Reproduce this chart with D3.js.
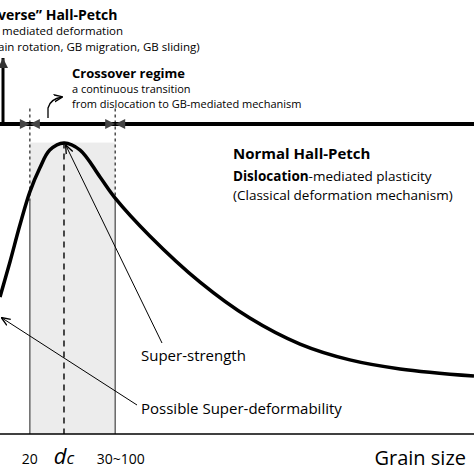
<!DOCTYPE html>
<html><head><meta charset="utf-8">
<script src="https://cdn.jsdelivr.net/npm/d3@7"></script>
<style>body{margin:0;background:#fff}text{font-family:"Open Sans",sans-serif}</style>
</head><body>
<svg id="chart" width="474" height="474"></svg>
<script>
// grain size (arbitrary units) vs strength (arbitrary units)
var curveX = [0, 2.1, 4.2, 6.3, 8.4, 10.5, 13.5, 16.9, 21.1, 24.3, 31.6, 42.2, 52.7, 63.3, 73.8, 84.4, 100];
var curveY = [44.2, 55.5, 67.4, 78.1, 85.8, 91.6, 93.9, 91.6, 82.9, 76.1, 63.9, 49, 37.4, 29, 23.9, 21, 18.7];
var bandStart = 6.3, bandEnd = 24.3, critical = 13.5;
var tickLabels = ["20", "d", "30~100"];
var tickPos = [6.3, 13.5, 25.5];

var svg = d3.select("#chart");
var x = d3.scaleLinear().domain([0, 100]).range([0, 474]);
var y = d3.scaleLinear().domain([0, 100]).range([434, 124]);

var defs = svg.append("defs");
defs.append("marker").attr("id", "tri").attr("viewBox", "0 0 10 10")
	.attr("refX", 10).attr("refY", 5).attr("markerWidth", 10).attr("markerHeight", 10)
	.attr("orient", "auto-start-reverse").attr("markerUnits", "userSpaceOnUse")
	.append("path").attr("d", "M0,0L10,5L0,10z").attr("fill", "#333");
defs.append("marker").attr("id", "thin").attr("viewBox", "0 0 10 10")
	.attr("refX", 9).attr("refY", 5).attr("markerWidth", 9).attr("markerHeight", 9)
	.attr("orient", "auto").attr("markerUnits", "userSpaceOnUse")
	.append("path").attr("d", "M0,1L10,5L0,9").attr("fill", "none").attr("stroke", "#000").attr("stroke-width", 1.5);

// crossover band
svg.append("rect").attr("x", x(bandStart)).attr("y", y(94))
	.attr("width", x(bandEnd) - x(bandStart)).attr("height", y(0) - y(94)).attr("fill", "#ececec");
[bandStart, bandEnd].forEach(function(v) {
	svg.append("line").attr("x1", x(v)).attr("x2", x(v)).attr("y1", y(75)).attr("y2", y(0))
		.attr("stroke", "#444").attr("stroke-width", 1.2);
	svg.append("line").attr("x1", x(v)).attr("x2", x(v)).attr("y1", y(105)).attr("y2", y(75))
		.attr("stroke", "#222").attr("stroke-width", 1.2).attr("stroke-dasharray", "3,3");
});
svg.append("line").attr("x1", x(critical)).attr("x2", x(critical)).attr("y1", y(94)).attr("y2", y(0))
	.attr("stroke", "#111").attr("stroke-width", 1.5).attr("stroke-dasharray", "6,5");

// regime divider line with arrowheads
svg.append("line").attr("x1", 0).attr("x2", 474).attr("y1", y(100)).attr("y2", y(100))
	.attr("stroke", "#000").attr("stroke-width", 4);
[[bandStart, -1], [bandStart, 1], [bandEnd, -1], [bandEnd, 1]].forEach(function(a) {
	var px = x(a[0]), d = a[1];
	svg.append("path").attr("d", "M" + px + "," + y(100) + "L" + (px + d * 10) + "," + (y(100) - 5) + "L" + (px + d * 10) + "," + (y(100) + 5) + "z")
		.attr("fill", "#444");
});

// axes
svg.append("line").attr("x1", 0).attr("x2", 474).attr("y1", y(0)).attr("y2", y(0)).attr("stroke", "#000").attr("stroke-width", 1.5);
svg.append("line").attr("x1", 3).attr("x2", 3).attr("y1", y(100)).attr("y2", 58)
	.attr("stroke", "#000").attr("stroke-width", 3).attr("marker-end", "url(#tri)");

// curve
var pts = curveX.map(function(v, i) { return [v, curveY[i]]; });
svg.append("path").datum(pts)
	.attr("d", d3.line().x(function(d) { return x(d[0]); }).y(function(d) { return y(d[1]); }).curve(d3.curveCatmullRom))
	.attr("fill", "none").attr("stroke", "#000").attr("stroke-width", 3.5);

// tick labels
tickLabels.forEach(function(t, i) {
	var tx = svg.append("text").attr("x", x(tickPos[i])).attr("y", 464).attr("text-anchor", "middle")
		.attr("font-size", 14).text(t);
	if (t == "d") {
		tx.attr("font-size", 22).attr("font-style", "italic").text("");
		tx.append("tspan").text("d");
		tx.append("tspan").attr("font-size", 17).text("c");
	}
});
svg.append("text").attr("x", 466).attr("y", 465).attr("text-anchor", "end").attr("font-size", 20).text("Grain size");

// annotations
svg.append("line").attr("x1", 162).attr("x2", x(critical) + 2).attr("y1", 343).attr("y2", y(93))
	.attr("stroke", "#000").attr("stroke-width", 1).attr("marker-end", "url(#thin)");
svg.append("text").attr("x", 141).attr("y", 361).attr("font-size", 15).text("Super-strength");
svg.append("line").attr("x1", 137).attr("x2", 2).attr("y1", 405).attr("y2", 318)
	.attr("stroke", "#000").attr("stroke-width", 1).attr("marker-end", "url(#thin)");
svg.append("text").attr("x", 141).attr("y", 414).attr("font-size", 15).text("Possible Super-deformability");

// regime texts
function txt(px, py, s, size, bold) {
	return svg.append("text").attr("x", px).attr("y", py).attr("font-size", size)
		.attr("font-weight", bold ? "bold" : "normal").text(s);
}
txt(-2, 20, "verse\u201d Hall-Petch", 14, true);
txt(2, 35, "mediated deformation", 11.5);
txt(-2, 51, "ain rotation, GB migration, GB sliding)", 11.5);
txt(72, 78, "Crossover regime", 13, true);
txt(72, 93, "a continuous transition", 11);
txt(72, 108, "from dislocation to GB-mediated mechanism", 11);
svg.append("path").attr("d", "M48,118 L48,108 Q50,99 62,97").attr("fill", "none")
	.attr("stroke", "#000").attr("stroke-width", 1.3).attr("marker-end", "url(#thin)");
txt(233, 159, "Normal Hall-Petch", 15, true);
var dl = svg.append("text").attr("x", 233).attr("y", 181).attr("font-size", 13.5);
dl.append("tspan").attr("font-weight", "bold").text("Dislocation");
dl.append("tspan").text("-mediated plasticity");
txt(233, 200, "(Classical deformation mechanism)", 13.5);
</script>
</body></html>
